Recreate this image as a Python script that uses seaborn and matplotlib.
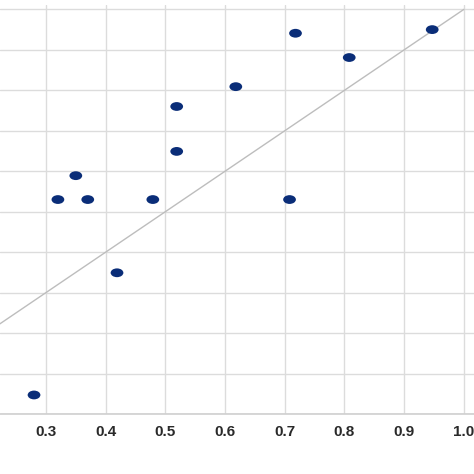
import matplotlib
matplotlib.use("Agg")
import matplotlib.pyplot as plt
from matplotlib.markers import MarkerStyle
from matplotlib.transforms import Affine2D
import pandas as pd
import seaborn as sns

# points
x_vals = [0.280, 0.320, 0.350, 0.370, 0.419, 0.479, 0.519, 0.519, 0.618, 0.708, 0.718, 0.808, 0.947]
y_vals = [0.047, 0.530, 0.589, 0.530, 0.349, 0.530, 0.649, 0.760, 0.809, 0.530, 0.941, 0.881, 0.950]

# reference line y = x
line_x = [0.0, 1.0]
line_y = [0.0, 1.0]

x_ticks = [0.3, 0.4, 0.5, 0.6, 0.7, 0.8, 0.9, 1.0]
x_labels = ["0.3", "0.4", "0.5", "0.6", "0.7", "0.8", "0.9", "1.0"]
y_ticks = [0.0, 0.1, 0.2, 0.3, 0.4, 0.5, 0.6, 0.7, 0.8, 0.9, 1.0]

df = pd.DataFrame({"x": x_vals, "y": y_vals})
df_line = pd.DataFrame({"x": line_x, "y": line_y})

sns.set_style("white")
plt.rcParams['font.family'] = ['Liberation Sans', 'DejaVu Sans']

fig = plt.figure(figsize=(4.74, 4.74), dpi=100)
ax = fig.add_axes([0.0, 0.1266, 1.0, 0.863])

sns.lineplot(data=df_line, x="x", y="y", color="#bdbdbd", linewidth=1.0, ax=ax, zorder=2)

oval = MarkerStyle("o", transform=Affine2D().scale(1.45, 1.0))
sns.scatterplot(data=df, x="x", y="y", marker=oval, s=40, color="#0a2d78",
                edgecolor="none", linewidth=0, ax=ax, zorder=3)

ax.set_xlim(0.223, 1.017)
ax.set_ylim(0.0, 1.011)
ax.set_xticks(x_ticks)
ax.set_xticklabels(x_labels, fontsize=11, fontweight="bold", color="#2a2a2a")
ax.set_yticks(y_ticks)
ax.set_yticklabels([])
ax.tick_params(axis="both", length=0)
ax.tick_params(axis="x", pad=8)
ax.grid(True, color="#dcdcdc", linewidth=1.0)
ax.set_axisbelow(True)
ax.set_xlabel("")
ax.set_ylabel("")

for side in ["top", "right", "left"]:
    ax.spines[side].set_visible(False)
ax.spines["bottom"].set_color("#cfcfcf")
ax.spines["bottom"].set_linewidth(1.2)

fig.savefig("out.png", dpi=100)
